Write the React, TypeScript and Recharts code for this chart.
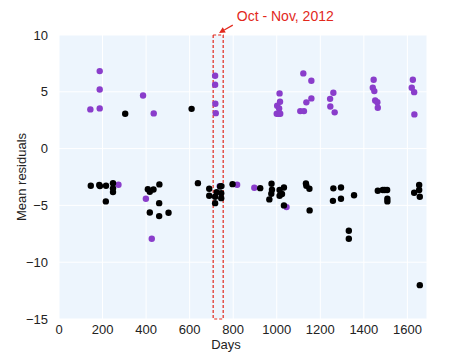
import React from 'react';
import {
  ScatterChart, Scatter, XAxis, YAxis, CartesianGrid, ReferenceArea, ReferenceLine, Label,
} from 'recharts';

// Days / residuals for purple series
const purpleDays = [144, 187, 187, 187, 386, 435, 717, 717, 718, 720, 1013, 1015, 1002, 1011, 1000, 1009, 1016, 1122, 1159, 1136, 1159, 1108, 1125, 1260, 1245, 1246, 1266, 1445, 1441, 1448, 1452, 1462, 1464, 1625, 1620, 1631, 1632, 273, 399, 426, 738, 818, 897, 1045];
const purpleVals = [3.45, 6.82, 5.2, 3.54, 4.68, 3.1, 6.41, 5.62, 3.95, 3.12, 4.86, 4.12, 3.77, 3.54, 3.07, 3.07, 3.07, 6.62, 5.97, 4.07, 4.42, 3.3, 3.3, 4.91, 4.38, 3.71, 3.19, 6.06, 5.35, 5.06, 4.24, 4.09, 3.6, 6.06, 5.35, 4.97, 3.01, -3.18, -4.42, -7.94, -3.3, -3.18, -3.45, -5.15];

// Days / residuals for black series
const blackDays = [304, 609, 146, 185, 188, 216, 215, 248, 248, 248, 408, 417, 434, 461, 417, 460, 460, 503, 638, 690, 690, 717, 717, 724, 740, 746, 745, 745, 797, 924, 976, 978, 975, 966, 1013, 1024, 1013, 1033, 1033, 1134, 1136, 1150, 1151, 1260, 1258, 1295, 1295, 1355, 1331, 1331, 1464, 1487, 1496, 1507, 1508, 1508, 1631, 1654, 1654, 1657, 1657];
const blackVals = [3.07, 3.5, -3.27, -3.2, -3.3, -3.27, -4.65, -3.04, -3.5, -3.83, -3.57, -3.8, -3.6, -3.15, -5.62, -4.8, -5.94, -5.65, -3.04, -3.53, -4.15, -4.24, -4.8, -3.83, -3.33, -3.3, -3.92, -4.36, -3.13, -3.48, -3.1, -3.62, -3.98, -4.47, -3.65, -4.0, -4.15, -3.42, -5.0, -3.07, -3.27, -3.53, -5.44, -3.5, -4.6, -3.42, -4.42, -4.1, -7.23, -7.94, -3.71, -3.65, -3.65, -3.65, -4.42, -4.65, -3.89, -3.21, -3.65, -4.24, -12.02];

const xTicks = [0, 200, 400, 600, 800, 1000, 1200, 1400, 1600];
const yTicks = [-15, -10, -5, 0, 5, 10];
const xDomain = [0, 1690];
const yDomain = [-15, 10];

// Highlighted window (Oct - Nov, 2012)
const windowDays = [708, 754];
const annotationText = 'Oct - Nov, 2012';
const arrowFrom = { x: 798, y: 10.87 };
const arrowTo = { x: 735, y: 10.18 };

const purpleData = purpleDays.map((d, i) => ({ day: d, val: purpleVals[i] }));
const blackData = blackDays.map((d, i) => ({ day: d, val: blackVals[i] }));

const PURPLE = '#8a3dcb';
const RED = '#e2281c';

const dot = (color: string) => (props: any) => (
  <circle cx={props.cx} cy={props.cy} r={3.2} fill={color} />
);

const fmt = (v: number) => String(v).replace('-', '\u2212');

const ArrowShape = (props: any) => {
  const { x1, y1, x2, y2 } = props;
  if (x1 == null) return null;
  const ang = Math.atan2(y2 - y1, x2 - x1);
  const L = 6;
  const W = 3;
  const bx = x2 - L * Math.cos(ang);
  const by = y2 - L * Math.sin(ang);
  const px = -Math.sin(ang) * W;
  const py = Math.cos(ang) * W;
  return (
    <g>
      <line x1={x1} y1={y1} x2={bx} y2={by} stroke={RED} strokeWidth={1.2} />
      <polygon points={`${x2},${y2} ${bx + px},${by + py} ${bx - px},${by - py}`} fill={RED} />
      <text x={x1 + 4} y={y1 - 4} fill={RED} fontSize={14} textAnchor="start">{annotationText}</text>
    </g>
  );
};

export default function App() {
  return (
    <div style={{ position: 'absolute', left: 0, top: 0, width: 474, height: 355, background: '#fff', fontFamily: '"Liberation Sans", Arial, sans-serif' }}>
      <ScatterChart width={474} height={355} margin={{ top: 35, right: 47, bottom: 0, left: 0 }}>
        <CartesianGrid fill="#edf5fd" stroke="#ffffff" strokeWidth={1} />
        <XAxis
          type="number"
          dataKey="day"
          domain={xDomain}
          ticks={xTicks}
          height={36}
          axisLine={false}
          tickLine={false}
          tickMargin={0}
          allowDataOverflow
          tick={{ fontSize: 13, fill: '#222' }}
        >
          <Label value="Days" position="center" dx={-17} dy={7} style={{ fontSize: 13, fill: '#222' }} />
        </XAxis>
        <YAxis
          type="number"
          dataKey="val"
          domain={yDomain}
          ticks={yTicks}
          width={59}
          axisLine={false}
          tickLine={false}
          tickMargin={5}
          tickFormatter={fmt}
          allowDataOverflow
          tick={{ fontSize: 13, fill: '#222' }}
        >
          <Label value="Mean residuals" angle={-90} position="center" dx={-8} style={{ fontSize: 13, fill: '#222' }} />
        </YAxis>
        <ReferenceArea
          x1={windowDays[0]}
          x2={windowDays[1]}
          y1={yDomain[0]}
          y2={yDomain[1]}
          fill="none"
          fillOpacity={0}
          stroke={RED}
          strokeDasharray="3 2"
          strokeWidth={1.2}
        />
        <ReferenceLine
          segment={[arrowFrom, arrowTo]}
          ifOverflow="visible"
          shape={ArrowShape}
        />
        <Scatter data={purpleData} shape={dot(PURPLE)} isAnimationActive={false} />
        <Scatter data={blackData} shape={dot('#000')} isAnimationActive={false} />
      </ScatterChart>
    </div>
  );
}
